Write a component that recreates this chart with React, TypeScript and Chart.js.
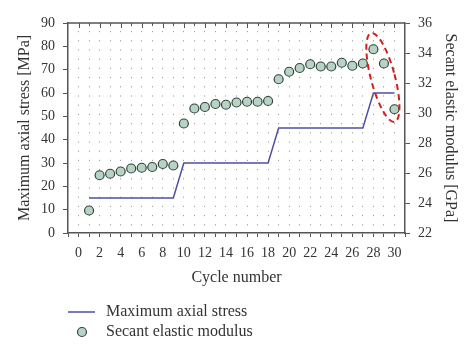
import React, { useEffect, useRef } from 'react';
import { Chart, registerables } from 'chart.js';

Chart.register(...registerables);

// ---- data ----
const cycles = [1, 2, 3, 4, 5, 6, 7, 8, 9, 10, 11, 12, 13, 14, 15, 16, 17, 18, 19, 20, 21, 22, 23, 24, 25, 26, 27, 28, 29, 30];
const maxAxialStress = [15, 15, 15, 15, 15, 15, 15, 15, 15, 30, 30, 30, 30, 30, 30, 30, 30, 30, 45, 45, 45, 45, 45, 45, 45, 45, 45, 60, 60, 60];
const secantModulus = [23.5, 25.85, 25.95, 26.1, 26.3, 26.35, 26.4, 26.6, 26.5, 29.3, 30.3, 30.4, 30.6, 30.55, 30.7, 30.75, 30.75, 30.8, 32.25, 32.75, 33.0, 33.25, 33.1, 33.1, 33.35, 33.15, 33.3, 34.25, 33.3, 30.25];
const xTickLabels = [0, 2, 4, 6, 8, 10, 12, 14, 16, 18, 20, 22, 24, 26, 28, 30];
const leftTickLabels = [0, 10, 20, 30, 40, 50, 60, 70, 80, 90];
const rightTickLabels = [22, 24, 26, 28, 30, 32, 34, 36];
const seriesNames = ['Maximum axial stress', 'Secant elastic modulus'];
const axisTitles = ['Cycle number', 'Maximum axial stress [MPa]', 'Secant elastic modulus [GPa]'];
// highlighted region (last cycles), in data units of x / right axis
const highlightCenter = [28.9, 32.37];

const FONT = "'Liberation Serif', 'Times New Roman', serif";
const TEXT = '#333333';
const AXIS = '#555555';
const LINE_COLOR = '#4f4fa3';
const PT_FILL = '#b7d3c6';
const PT_EDGE = '#34443c';

const topTicksPlugin = {
  id: 'topTicks',
  afterDraw(chart: any) {
    const { ctx, chartArea } = chart;
    const xs = chart.scales.x;
    ctx.save();
    ctx.strokeStyle = AXIS;
    ctx.lineWidth = 1.5;
    ctx.beginPath();
    ctx.moveTo(chartArea.left, chartArea.top);
    ctx.lineTo(chartArea.right, chartArea.top);
    ctx.stroke();
    ctx.lineWidth = 1;
    for (let v = 0; v <= 30; v++) {
      const px = Math.round(xs.getPixelForValue(v)) + 0.5;
      const len = v % 2 === 0 ? 5 : 3;
      ctx.beginPath();
      ctx.moveTo(px, chartArea.top);
      ctx.lineTo(px, chartArea.top + len);
      ctx.stroke();
    }
    ctx.restore();
  },
};

const ellipsePlugin = {
  id: 'highlightEllipse',
  afterDatasetsDraw(chart: any) {
    const { ctx } = chart;
    const cx = chart.scales.x.getPixelForValue(highlightCenter[0]);
    const cy = chart.scales.y1.getPixelForValue(highlightCenter[1]);
    ctx.save();
    ctx.strokeStyle = '#d21f1f';
    ctx.lineWidth = 2;
    ctx.setLineDash([6, 4]);
    ctx.beginPath();
    ctx.ellipse(cx, cy, 12, 46, -0.26, 0, Math.PI * 2);
    ctx.stroke();
    ctx.restore();
  },
};

const legendPlugin = {
  id: 'customLegend',
  afterDraw(chart: any) {
    const { ctx, chartArea } = chart;
    const x0 = chartArea.left;
    const y1 = chart.height - 41;
    const y2 = chart.height - 21;
    ctx.save();
    ctx.strokeStyle = LINE_COLOR;
    ctx.lineWidth = 1.5;
    ctx.beginPath();
    ctx.moveTo(x0, y1);
    ctx.lineTo(x0 + 27, y1);
    ctx.stroke();
    ctx.fillStyle = PT_FILL;
    ctx.strokeStyle = PT_EDGE;
    ctx.lineWidth = 1.2;
    ctx.beginPath();
    ctx.arc(x0 + 14, y2, 4.5, 0, Math.PI * 2);
    ctx.fill();
    ctx.stroke();
    ctx.fillStyle = TEXT;
    ctx.font = `16px ${FONT}`;
    ctx.textBaseline = 'middle';
    ctx.textAlign = 'left';
    ctx.fillText(seriesNames[0], x0 + 38, y1);
    ctx.fillText(seriesNames[1], x0 + 38, y2);
    ctx.restore();
  },
};

export default function App() {
  const ref = useRef<HTMLCanvasElement | null>(null);

  useEffect(() => {
    if (!ref.current) return;
    const chart = new Chart(ref.current, {
      type: 'scatter',
      data: {
        datasets: [
          {
            label: seriesNames[0],
            data: cycles.map((c, i) => ({ x: c, y: maxAxialStress[i] })),
            showLine: true,
            borderColor: LINE_COLOR,
            borderWidth: 1.5,
            pointRadius: 0,
            tension: 0,
            yAxisID: 'y',
            order: 2,
          },
          {
            label: seriesNames[1],
            data: cycles.map((c, i) => ({ x: c, y: secantModulus[i] })),
            showLine: false,
            backgroundColor: PT_FILL,
            borderColor: PT_EDGE,
            borderWidth: 1.2,
            pointRadius: 4.5,
            yAxisID: 'y1',
            order: 1,
          },
        ],
      },
      options: {
        animation: false,
        responsive: false,
        devicePixelRatio: 1,
        layout: { padding: { top: 23, left: 0, right: 0, bottom: 63 } },
        plugins: { legend: { display: false }, tooltip: { enabled: false } },
        scales: {
          x: {
            type: 'linear',
            position: 'bottom',
            min: -1,
            max: 31,
            afterFit: (s: any) => { s.height = 57; },
            ticks: {
              stepSize: 1,
              autoSkip: false,
              maxRotation: 0,
              padding: 8,
              color: TEXT,
              font: { family: FONT, size: 14 },
              callback: (v: any) => (xTickLabels.includes(Number(v)) ? String(v) : ''),
            },
            grid: {
              drawOnChartArea: true,
              color: (c: any) => (c.tick && (c.tick.value < 0 || c.tick.value > 30) ? 'rgba(0,0,0,0)' : '#a0a0a0'),
              lineWidth: 1,
              tickColor: AXIS,
              tickLength: 4,
              tickWidth: 1,
              tickBorderDash: [],
              tickBorderDashOffset: 0,
            },
            border: { display: true, color: AXIS, width: 1.5, dash: [1.2, 8], dashOffset: 1.2 },
            title: {
              display: true,
              text: axisTitles[0],
              color: TEXT,
              font: { family: FONT, size: 16 },
              padding: { top: 0, bottom: 2.5 },
            },
          },
          y: {
            type: 'linear',
            position: 'left',
            min: 0,
            max: 90,
            afterFit: (s: any) => { s.width = 68; },
            ticks: {
              stepSize: 5,
              padding: 8,
              color: TEXT,
              font: { family: FONT, size: 14 },
              callback: (v: any) => (leftTickLabels.includes(Number(v)) ? String(v) : ''),
            },
            grid: { drawOnChartArea: false, tickColor: AXIS, tickLength: 5, tickWidth: 1 },
            border: { display: true, color: AXIS, width: 1.5 },
            title: {
              display: true,
              text: axisTitles[1],
              color: TEXT,
              font: { family: FONT, size: 16 },
              padding: { top: 15, bottom: 0 },
            },
          },
          y1: {
            type: 'linear',
            position: 'right',
            min: 22,
            max: 36,
            afterFit: (s: any) => { s.width = 69; },
            ticks: {
              stepSize: 1,
              padding: 8,
              color: TEXT,
              font: { family: FONT, size: 14 },
              callback: (v: any) => (rightTickLabels.includes(Number(v)) ? String(v) : ''),
            },
            grid: { drawOnChartArea: false, tickColor: AXIS, tickLength: 5, tickWidth: 1 },
            border: { display: true, color: AXIS, width: 1.5 },
            title: {
              display: true,
              text: axisTitles[2],
              color: TEXT,
              font: { family: FONT, size: 16 },
              padding: { top: 14.5, bottom: 0 },
            },
          },
        },
      } as any,
      plugins: [topTicksPlugin, ellipsePlugin, legendPlugin],
    });
    return () => chart.destroy();
  }, []);

  return (
    <div style={{ position: 'absolute', left: 0, top: 0, width: 474, height: 353, background: '#fff' }}>
      <canvas ref={ref} width={474} height={353} style={{ display: 'block' }} />
    </div>
  );
}
